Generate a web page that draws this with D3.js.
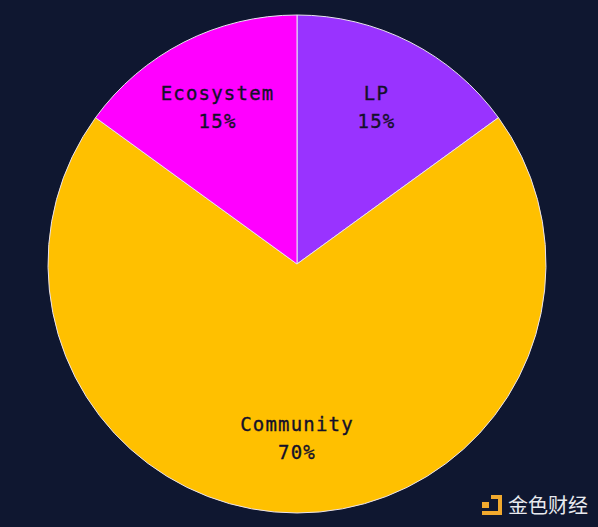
<!DOCTYPE html>
<html>
<head>
<meta charset="utf-8">
<script src="https://cdn.jsdelivr.net/npm/d3@7"></script>
<style>
  html, body { margin: 0; padding: 0; background: #0f1730; }
  svg { display: block; }
</style>
</head>
<body>
<div id="chart"></div>
<script>
// values, clockwise from 12 o'clock
var categories = ["LP", "Community", "Ecosystem"];
var shares = [15, 70, 15];
var sliceColors = ["#9933ff", "#ffc000", "#ff00ff"];
var watermarkText = "金色财经";

var width = 598, height = 527;
var cx = 297, cy = 264, radius = 249;

var svg = d3.select("#chart")
  .append("svg")
    .attr("width", width)
    .attr("height", height);

svg.append("rect")
  .attr("width", width)
  .attr("height", height)
  .attr("fill", "#0f1730");

var pie = d3.pie().sort(null).value(function(d){ return d; });
var arc = d3.arc().innerRadius(0).outerRadius(radius);
var labelArc = d3.arc().innerRadius(175).outerRadius(175);

var slices = pie(shares);

var g = svg.append("g")
  .attr("transform", "translate(" + cx + "," + cy + ")");

g.selectAll("path")
  .data(slices)
  .enter()
  .append("path")
    .attr("d", arc)
    .attr("fill", function(d, i){ return sliceColors[i]; })
    .attr("stroke", "#e9e2ee")
    .attr("stroke-width", 1);

var labels = g.selectAll(".sliceLabel")
  .data(slices)
  .enter()
  .append("text")
    .attr("class", "sliceLabel")
    .attr("text-anchor", "middle")
    .attr("font-family", "'DejaVu Sans Mono', monospace")
    .attr("font-size", 19)
    .attr("letter-spacing", 1.2)
    .attr("fill", "#14102a")
    .attr("stroke", "#14102a")
    .attr("stroke-width", 0.35)
    .attr("transform", function(d){
      return "translate(" + labelArc.centroid(d) + ")";
    });

labels.append("tspan")
  .attr("x", 0)
  .attr("y", -8)
  .text(function(d, i){ return categories[i]; });

labels.append("tspan")
  .attr("x", 0)
  .attr("y", 20)
  .text(function(d){ return d.data + "%"; });

// watermark, bottom right
var mark = svg.append("g")
  .attr("transform", "translate(482,495)");

mark.append("path")
  .attr("d", "M9 0H20V20H0V16H16V4H9Z M0 7H7V13H0Z")
  .attr("fill", "#f0a92e");

svg.append("text")
  .attr("x", 508)
  .attr("y", 513)
  .attr("font-family", "'Noto Sans CJK SC', sans-serif")
  .attr("font-size", 20)
  .attr("fill", "#e8eaef")
  .text(watermarkText);
</script>
</body>
</html>
